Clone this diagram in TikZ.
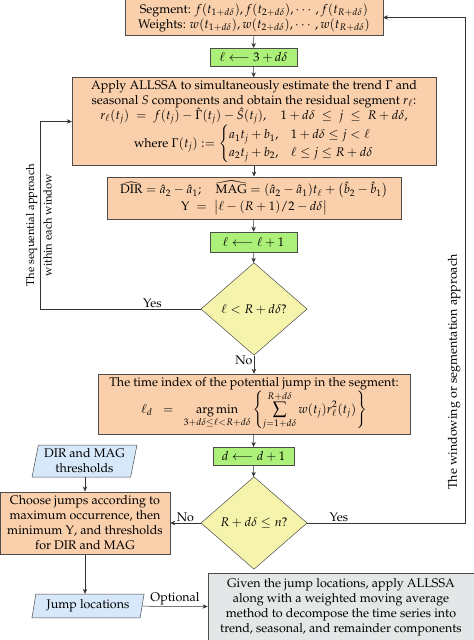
\documentclass[tikz,border=0pt]{standalone}
\usepackage{amsmath, amssymb}
\usepackage[T1]{fontenc}
\usepackage{mathpazo}
\usepackage{xcolor}
\usepackage{tikz}
\usetikzlibrary{shapes.geometric,arrows.meta,positioning,calc}

\definecolor{procfill}{RGB}{250,208,172}
\definecolor{stepfill}{RGB}{172,240,122}
\definecolor{condfill}{RGB}{246,244,172}
\definecolor{iofill}{RGB}{214,232,250}
\definecolor{outfill}{RGB}{228,231,231}

\begin{document}
\begin{tikzpicture}[
        x=0.8pt, y=-0.8pt,
        proc/.style={
            rectangle,
            draw=black!70,
            fill=procfill,
            inner sep=2pt,
            align=center
        },
        act/.style={
            rectangle,
            draw=black!70,
            fill=stepfill,
            inner sep=2pt
        },
        cond/.style={
            diamond,
            draw=black!70,
            fill=condfill,
            minimum width=85pt,
            minimum height=74pt,
            inner sep=0pt
        },
        io/.style={
            trapezium,
            trapezium stretches=true,
            trapezium left angle=78,
            trapezium right angle=102,
            draw=black!70,
            fill=iofill,
            align=center,
            inner sep=1pt
        },
        result/.style={
            rectangle,
            draw=black!70,
            fill=outfill,
            align=center,
            inner sep=2pt
        },
        line/.style={
            draw=black!80,
            -{Stealth[length=4pt,width=3.5pt]}
        }
    ]
        \useasboundingbox (0,0) rectangle (474,640);

        % Main column
        \node[proc, minimum width=206pt, minimum height=29pt] (seg) at (254,17.5)
            {Segment: $f(t_{1+d\delta}),f(t_{2+d\delta}),\cdots,f(t_{R+d\delta})$\\
             Weights: $w(t_{1+d\delta}),w(t_{2+d\delta}),\cdots,w(t_{R+d\delta})$};
        \node[act, minimum width=70pt, minimum height=14pt] (init) at (253.5,57)
            {$\ell\longleftarrow 3+d\delta$};
        \node[proc, minimum width=291pt, minimum height=68pt] (fit) at (254,121.5)
            {Apply ALLSSA to simultaneously estimate the trend $\Gamma$ and\\
             seasonal $S$ components and obtain the residual segment $r_\ell$:\\
             $r_\ell(t_j)\;=\;f(t_j)-\hat{\Gamma}(t_j)-\hat{S}(t_j),\quad 1+d\delta\;\le\;j\;\le\;R+d\delta,$\\
             where $\Gamma(t_j):=\begin{cases}a_1t_j+b_1, & 1+d\delta\le j<\ell\\ a_2t_j+b_2, & \ell\le j\le R+d\delta\end{cases}$};
        \node[proc, minimum width=235pt, minimum height=34pt] (dir) at (254,198)
            {$\widehat{\mathrm{DIR}}=\hat{a}_2-\hat{a}_1;\quad\widehat{\mathrm{MAG}}=(\hat{a}_2-\hat{a}_1)t_\ell+\big(\hat{b}_2-\hat{b}_1\big)$\\
             $\Upsilon\;=\;\big|\ell-(R+1)/2-d\delta\big|$};
        \node[act, minimum width=70pt, minimum height=16pt] (next) at (253.5,242)
            {$\ell\longleftarrow\ell+1$};
        \node[cond] (more) at (254,309) {$\ell<R+d\delta$?};
        \node[proc, minimum width=250pt, minimum height=48pt] (jump) at (254,404)
            {The time index of the potential jump in the segment:\\
             $\displaystyle \ell_d\;\;=\;\;\operatorname*{arg\,min}_{3+d\delta\le\ell<R+d\delta}\left\{\sum_{j=1+d\delta}^{R+d\delta}w(t_j)r_\ell^2(t_j)\right\}$};
        \node[act, minimum width=65pt, minimum height=14pt] (shift) at (253.5,456)
            {$d\longleftarrow d+1$};
        \node[cond] (done) at (254,523) {$R+d\delta\le n$?};

        % Left column
        \node[io, minimum width=84pt, minimum height=25.6pt] (thr) at (84.5,461)
            {DIR and MAG\\thresholds};
        \node[proc, minimum width=136pt, minimum height=50pt] (pick) at (85,523)
            {Choose jumps according to\\maximum occurrence, then\\minimum $\Upsilon$, and thresholds\\for DIR and MAG};
        \node[io, minimum width=90pt, minimum height=19pt] (loc) at (88,606)
            {Jump locations};
        \node[result, minimum width=213pt, minimum height=54pt] (dec) at (341,607)
            {Given the jump locations, apply ALLSSA\\along with a weighted moving average\\method to decompose the time series into\\trend, seasonal, and remainder components};

        % Loop corners
        \coordinate (seqL) at (40,0);
        \coordinate (winR) at (465,0);

        % Connectors
        \draw[line] (seg) -- (init);
        \draw[line] (init) -- (fit);
        \draw[line] (fit) -- (dir);
        \draw[line] (dir) -- (next);
        \draw[line] (next) -- (more);
        \draw[line] (more) -- node[left, pos=0.25, inner sep=1pt] {No} (jump);
        \draw[line] (jump) -- (shift);
        \draw[line] (shift) -- (done);
        \draw[line] (more.west) -- node[above, pos=0.3, inner sep=1pt] {Yes} (more.west -| seqL) |- (fit.west);
        \draw[line] (done.east) -- node[above, pos=0.2, inner sep=1pt] {Yes} (done.east -| winR) |- (seg.east);
        \draw[line] (done.west) -- node[above, inner sep=1pt] {No} (pick.east);
        \draw[line] (thr.south -| pick.north) -- (pick.north);
        \draw[line] (pick.south) -- (pick.south |- loc.north);
        \draw[line] (loc) -- node[above, inner sep=1pt] {Optional} (dec);

        % Loop labels
        \node[rotate=90, align=center, font=\small] (seqtxt) at (39,225)
            {The sequential approach\\[3pt]within each window};
        \node[rotate=90] (wintxt) at (454,372)
            {The windowing or segmentation approach};
    \end{tikzpicture}
\end{document}
